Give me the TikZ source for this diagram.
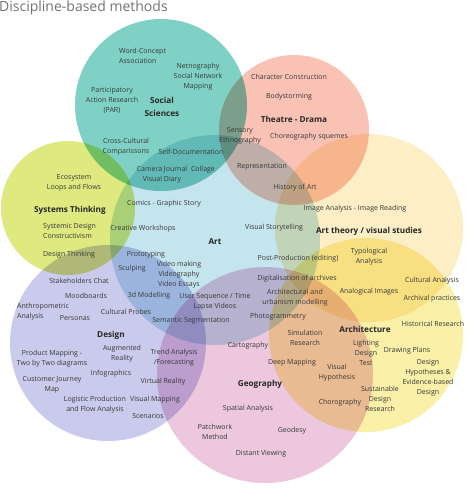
\documentclass[tikz,border=0pt]{standalone}
\usepackage{fontspec}
\setmainfont{Open Sans}
\definecolor{socialcol}{RGB}{128,209,197}
\definecolor{theatrecol}{RGB}{249,194,181}
\definecolor{systemscol}{RGB}{222,233,128}
\definecolor{artcol}{RGB}{196,228,238}
\definecolor{theorycol}{RGB}{253,238,198}
\definecolor{archcol}{RGB}{250,240,168}
\definecolor{designcol}{RGB}{202,202,237}
\definecolor{geocol}{RGB}{237,199,222}
\definecolor{labelcol}{RGB}{55,55,55}
\begin{document}
\begin{tikzpicture}[x=1pt,y=-1pt,
    lbl/.style={align=center,inner sep=0pt,text=labelcol,font=\fontsize{7}{10}\selectfont},
    cat/.style={align=center,inner sep=0pt,text=black!85,font=\fontsize{8.2}{12.5}\selectfont\bfseries}]
    \useasboundingbox[fill=white] (0,0) rectangle (474,488);
    \begin{scope}[blend group=multiply]
        \fill[socialcol] (161,105) circle (86);
        \fill[theatrecol] (294,130) circle (75);
        \fill[systemscol] (68,208) circle (67);
        \fill[artcol] (215,240) circle (105);
        \fill[theorycol] (369,228) circle (94);
        \fill[archcol] (366,335) circle (97);
        \fill[designcol] (108,343) circle (98);
        \fill[geocol] (265,375) circle (108);
    \end{scope}
    \begin{scope}
        \node[name=title, anchor=west, inner sep=0pt, text=black!55, font=\fontsize{14}{16}\selectfont] at (-1,8) (title) {Discipline-based methods};
        % social sciences
        \node[name=social, cat] at (162,107) (social) {Social\\Sciences};
        \node[name=s1, lbl, align=left, anchor=west] at (119,56) (s1) {Word-Concept\\Association};
        \node[name=s2, lbl] at (198,77) (s2) {Netnography\\Social Network\\Mapping};
        \node[name=s3, lbl] at (112,100) (s3) {Participatory\\Action Research\\(PAR)};
        \node[name=s4, lbl] at (126,147) (s4) {Cross-Cultural\\Comparissons};
        \node[name=s5, lbl] at (191,152) (s5) {Self-Documentation};
        \node[name=s6, lbl] at (240,136) (s6) {Sensory\\Ethnography};
        % theatre
        \node[name=theatre, cat] at (294,119) (theatre) {Theatre - Drama};
        \node[name=t1, lbl] at (289,77) (t1) {Character Construction};
        \node[name=t2, lbl] at (289,97) (t2) {Bodystorming};
        \node[name=t3, lbl] at (309,137) (t3) {Choreography squemes};
        \node[name=t4, lbl] at (262,167) (t4) {Representation};
        % systems thinking
        \node[name=systems, cat] at (70,210) (systems) {Systems Thinking};
        \node[name=y1, lbl] at (74,183) (y1) {Ecosystem\\Loops and Flows};
        \node[name=y2, lbl, align=left, anchor=west] at (43,231) (y2) {Systemic Design\\Constructivism};
        \node[name=y3, lbl] at (69,255) (y3) {Design Thinking};
        % art
        \node[name=art, cat] at (215,242) (art) {Art};
        \node[name=a1, lbl] at (162,175) (a1) {Camera Journal\\Visual Diary};
        \node[name=a2, lbl] at (203,170) (a2) {Collage};
        \node[name=a3, lbl] at (164,204) (a3) {Comics - Graphic Story};
        \node[name=a4, lbl] at (143,229) (a4) {Creative Workshops};
        \node[name=a5, lbl] at (274,228) (a5) {Visual Storytelling};
        \node[name=a6, lbl] at (295,188) (a6) {History of Art};
        \node[name=a7, lbl] at (146,255) (a7) {Prototyping};
        \node[name=a8, lbl] at (132,269) (a8) {Sculping};
        \node[name=a9, lbl] at (179,275) (a9) {Video making\\Videography\\Video Essays};
        \node[name=a10, lbl] at (149,296) (a10) {3d Modelling};
        \node[name=a11, lbl] at (215,302) (a11) {User Sequence / Time\\Lapse Videos};
        \node[name=a12, lbl] at (191,321) (a12) {Semantic Segmentation};
        \node[name=a13, lbl] at (298,259) (a13) {Post-Production (editing)};
        \node[name=a14, lbl] at (297,279) (a14) {Digitalisation of archives};
        \node[name=a15, lbl] at (295,298) (a15) {Architectural and\\urbanism modelling};
        \node[name=a16, lbl] at (278,317) (a16) {Photogrammetry};
        % art theory
        \node[name=theory, cat] at (369,231) (theory) {Art theory / visual studies};
        \node[name=v1, lbl] at (355,209) (v1) {Image Analysis - Image Reading};
        \node[name=v2, lbl] at (369,257) (v2) {Typological\\Analysis};
        \node[name=v3, lbl] at (369,292) (v3) {Analogical Images};
        \node[name=v4, lbl] at (432,281) (v4) {Cultural Analysis};
        \node[name=v5, lbl] at (432,299) (v5) {Archival practices};
        % architecture
        \node[name=arch, cat] at (365,329) (arch) {Architecture};
        \node[name=r1, lbl] at (433,324) (r1) {Historical Research};
        \node[name=r2, lbl] at (305,338) (r2) {Simulation\\Research};
        \node[name=r3, lbl] at (366,353) (r3) {Lighting\\Design\\Test};
        \node[name=r4, lbl] at (407,351) (r4) {Drawing Plans};
        \node[name=r5, lbl] at (428,378) (r5) {Design\\Hypotheses \&\\Evidence-based\\Design};
        \node[name=r6, lbl] at (337,373) (r6) {Visual\\Hypothesis};
        \node[name=r7, lbl] at (380,399) (r7) {Sustainable\\Design\\Research};
        \node[name=r8, lbl] at (340,403) (r8) {Chorography};
        % design
        \node[name=design, cat] at (111,335) (design) {Design};
        \node[name=d1, lbl] at (79,281) (d1) {Stakeholders Chat};
        \node[name=d2, lbl] at (86,296) (d2) {Moodboards};
        \node[name=d3, lbl, align=left, anchor=west] at (17,312) (d3) {Anthropometric\\Analysis};
        \node[name=d4, lbl] at (75,318) (d4) {Personas};
        \node[name=d5, lbl] at (126,312) (d5) {Cultural Probes};
        \node[name=d6, lbl] at (52,359) (d6) {Product Mapping -\\Two by Two diagrams};
        \node[name=d7, lbl] at (122,354) (d7) {Augmented\\Reality};
        \node[name=d8, lbl] at (52,385) (d8) {Customer Journey\\Map};
        \node[name=d9, lbl] at (111,374) (d9) {Infographics};
        \node[name=d10, lbl] at (95,405) (d10) {Logistic Production\\and Flow Analysis};
        \node[name=d11, lbl] at (174,358) (d11) {Trend Analysis\\/Forecasting};
        \node[name=d12, lbl] at (163,382) (d12) {Virtual Reality};
        \node[name=d13, lbl] at (155,400) (d13) {Visual Mapping};
        \node[name=d14, lbl] at (148,416) (d14) {Scenarios};
        % geography
        \node[name=geo, cat] at (260,384) (geo) {Geography};
        \node[name=g1, lbl] at (248,346) (g1) {Cartography};
        \node[name=g2, lbl] at (292,363) (g2) {Deep Mapping};
        \node[name=g3, lbl] at (248,409) (g3) {Spatial Analysis};
        \node[name=g4, lbl] at (215,432) (g4) {Patchwork\\Method};
        \node[name=g5, lbl] at (292,431) (g5) {Geodesy};
        \node[name=g6, lbl] at (261,454) (g6) {Distant Viewing};
    \end{scope}
\end{tikzpicture}
\end{document}
